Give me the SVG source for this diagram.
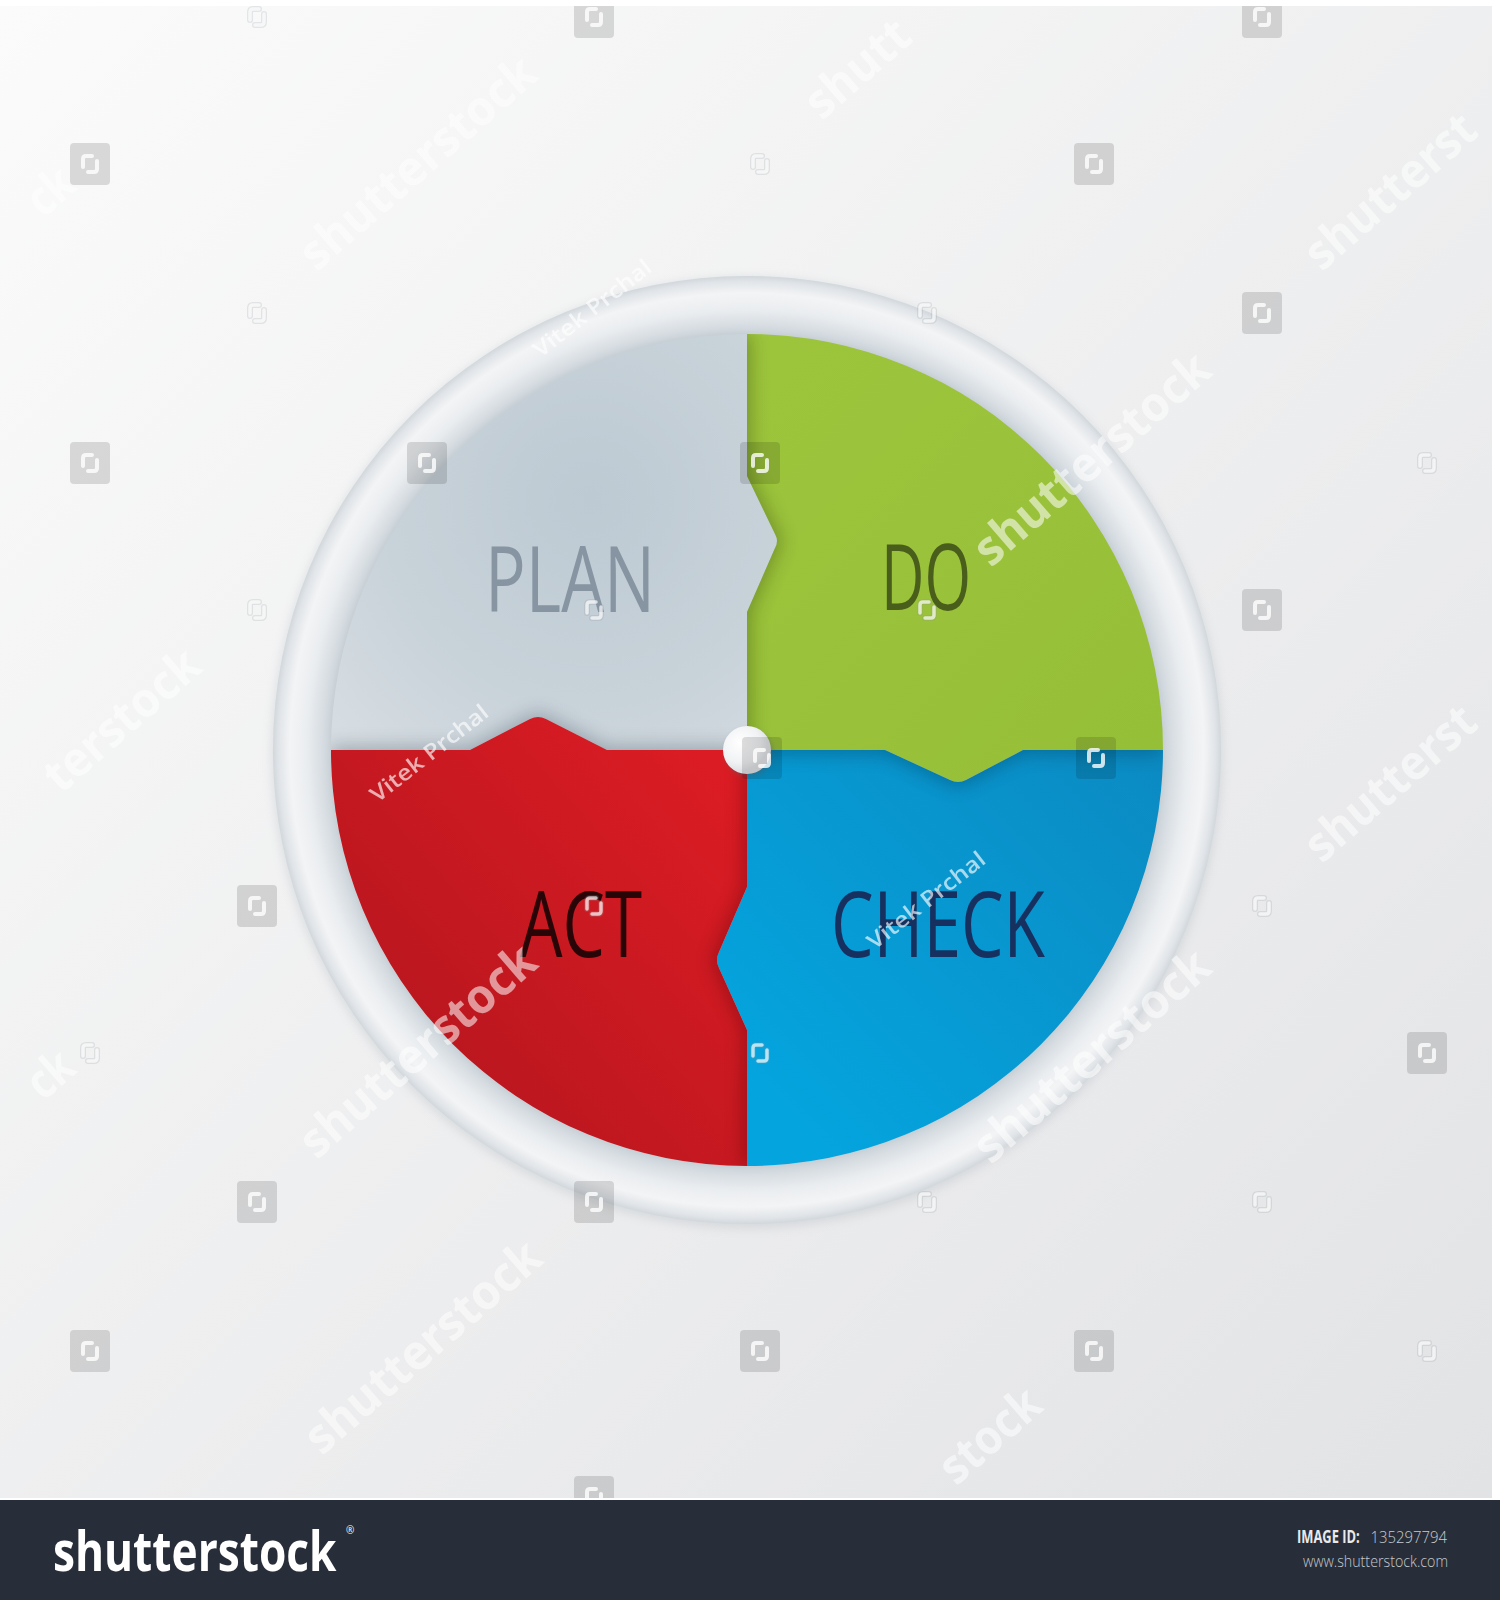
<svg xmlns="http://www.w3.org/2000/svg" xmlns:xlink="http://www.w3.org/1999/xlink" width="1500" height="1600" viewBox="0 0 1500 1600">
<style>
.lbl{font-family:"Open Sans","Liberation Sans",sans-serif;font-size:92px;font-weight:400}
.wm{font-family:"Open Sans","Liberation Sans",sans-serif;font-weight:700;font-size:48px;fill:#fff;opacity:.55}
.vp{font-family:"Open Sans","Liberation Sans",sans-serif;font-weight:600;font-size:22px;fill:#fff;opacity:.65}
.bar{font-family:"Open Sans","Liberation Sans",sans-serif}
</style>
<defs>
<linearGradient id="bg" x1="0" y1="0" x2="1492" y2="1498" gradientUnits="userSpaceOnUse">
<stop offset="0" stop-color="#fbfbfb"/><stop offset="1" stop-color="#e2e3e5"/>
</linearGradient>
<radialGradient id="ring" cx="747" cy="750" r="476" gradientUnits="userSpaceOnUse">
<stop offset="0.87" stop-color="#c3ccd3"/><stop offset="0.885" stop-color="#d2d9de"/><stop offset="0.925" stop-color="#eaedf0"/><stop offset="0.96" stop-color="#f3f4f5"/><stop offset="0.985" stop-color="#e0e4e8"/><stop offset="1" stop-color="#cbd2d7"/>
</radialGradient>
<radialGradient id="gPlan" cx="590" cy="500" r="340" gradientUnits="userSpaceOnUse">
<stop offset="0" stop-color="#bdcad3"/><stop offset="0.6" stop-color="#c8d2d9"/><stop offset="1" stop-color="#d6dde2"/>
</radialGradient>
<linearGradient id="gDo" x1="760" y1="350" x2="1160" y2="740" gradientUnits="userSpaceOnUse">
<stop offset="0" stop-color="#9dc53c"/><stop offset="1" stop-color="#96bf38"/>
</linearGradient>
<linearGradient id="gAct" x1="400" y1="1060" x2="730" y2="770" gradientUnits="userSpaceOnUse">
<stop offset="0" stop-color="#b8161e"/><stop offset="1" stop-color="#dc1c24"/>
</linearGradient>
<linearGradient id="gCheck" x1="780" y1="1130" x2="1150" y2="770" gradientUnits="userSpaceOnUse">
<stop offset="0" stop-color="#04a5df"/><stop offset="1" stop-color="#0b8bc3"/>
</linearGradient>
<radialGradient id="gDot" cx="740" cy="743" r="28" gradientUnits="userSpaceOnUse">
<stop offset="0" stop-color="#ffffff"/><stop offset="0.7" stop-color="#f1f2f4"/><stop offset="1" stop-color="#dfe2e5"/>
</radialGradient>
<filter id="blur" x="-20%" y="-20%" width="140%" height="140%"><feGaussianBlur stdDeviation="9"/></filter>
<filter id="soft" x="-10%" y="-10%" width="120%" height="120%"><feGaussianBlur stdDeviation="5"/></filter>
<filter id="dotsh" x="-50%" y="-50%" width="200%" height="200%"><feGaussianBlur stdDeviation="2.5"/></filter>
<clipPath id="img"><rect x="0" y="6" width="1492" height="1492"/></clipPath>
<clipPath id="cPlan"><path d="M331,750 A416,416 0 0 1 747,334 L747,476 L775,534 Q779,541 775,548 L747,612 L747,750 L607,750 L546,719 Q538,715 530,719 L470,750 Z"/></clipPath>
<clipPath id="cDo"><path d="M747,334 A416,416 0 0 1 1163,750 L1023,750 L966,780 Q958,784 950,780 L885,750 L747,750 L747,612 L775,548 Q779,541 775,534 L747,476 Z"/></clipPath>
<clipPath id="cCheck"><path d="M1163,750 A416,416 0 0 1 747,1166 L747,1030 L719,968 Q715,960 719,952 L747,887 L747,750 L885,750 L950,780 Q958,784 966,780 L1023,750 Z"/></clipPath>
<clipPath id="cAct"><path d="M747,1166 A416,416 0 0 1 331,750 L470,750 L530,719 Q538,715 546,719 L607,750 L747,750 L747,887 L719,952 Q715,960 719,968 L747,1030 Z"/></clipPath>
<g id="ico">
<rect x="-20" y="-21" width="40" height="42" rx="4" fill="#000" opacity=".13"/>
<path d="M-7,3 V-5 Q-7,-8 -4,-8 H2 M7,-3 V5 Q7,8 4,8 H-2" fill="none" stroke="#fff" stroke-width="4" stroke-linecap="round" opacity=".8"/>
</g>
<g id="gly">
<path d="M-7,3 V-5 Q-7,-8 -4,-8 H2 M7,-3 V5 Q7,8 4,8 H-2" fill="none" stroke="#8d959c" stroke-width="6" stroke-linecap="round" opacity=".2"/>
<path d="M-7,3 V-5 Q-7,-8 -4,-8 H2 M7,-3 V5 Q7,8 4,8 H-2" fill="none" stroke="#fff" stroke-width="3.5" stroke-linecap="round" opacity=".7"/>
</g>
</defs>

<rect x="0" y="0" width="1500" height="1600" fill="#ffffff"/>
<rect x="0" y="6" width="1492" height="1492" fill="url(#bg)"/>

<g id="ring-frame">
<circle cx="747" cy="753" r="476" fill="#8a96a0" opacity=".2" filter="url(#soft)"/>
<circle cx="747" cy="750" r="474" fill="url(#ring)"/>
</g>

<g id="node-plan">
<path d="M331,750 A416,416 0 0 1 747,334 L747,476 L775,534 Q779,541 775,548 L747,612 L747,750 L607,750 L546,719 Q538,715 530,719 L470,750 Z" fill="url(#gPlan)"/>
<g clip-path="url(#cPlan)"><path d="M747,1166 A416,416 0 0 1 331,750 L470,750 L530,719 Q538,715 546,719 L607,750 L747,750 L747,887 L719,952 Q715,960 719,968 L747,1030 Z" fill="#3a4a58" opacity=".35" filter="url(#blur)" transform="translate(0,-4)"/></g>
<text class="lbl" x="485" y="612" textLength="170" lengthAdjust="spacingAndGlyphs" fill="#8795a3">PLAN</text>
</g>

<g id="node-do">
<path d="M747,334 A416,416 0 0 1 1163,750 L1023,750 L966,780 Q958,784 950,780 L885,750 L747,750 L747,612 L775,548 Q779,541 775,534 L747,476 Z" fill="url(#gDo)"/>
<g clip-path="url(#cDo)"><path d="M331,750 A416,416 0 0 1 747,334 L747,476 L775,534 Q779,541 775,548 L747,612 L747,750 L607,750 L546,719 Q538,715 530,719 L470,750 Z" fill="#2c3a10" opacity=".35" filter="url(#blur)" transform="translate(4,0)"/></g>
<text class="lbl" x="881" y="610" textLength="90" lengthAdjust="spacingAndGlyphs" fill="#4a5e1c">DO</text>
</g>

<g id="node-check">
<path d="M1163,750 A416,416 0 0 1 747,1166 L747,1030 L719,968 Q715,960 719,952 L747,887 L747,750 L885,750 L950,780 Q958,784 966,780 L1023,750 Z" fill="url(#gCheck)"/>
<g clip-path="url(#cCheck)"><path d="M747,334 A416,416 0 0 1 1163,750 L1023,750 L966,780 Q958,784 950,780 L885,750 L747,750 L747,612 L775,548 Q779,541 775,534 L747,476 Z" fill="#04324a" opacity=".35" filter="url(#blur)" transform="translate(0,4)"/></g>
<text class="lbl" x="831" y="957" textLength="214" lengthAdjust="spacingAndGlyphs" fill="#163160">CHECK</text>
</g>

<g id="node-act">
<path d="M747,1166 A416,416 0 0 1 331,750 L470,750 L530,719 Q538,715 546,719 L607,750 L747,750 L747,887 L719,952 Q715,960 719,968 L747,1030 Z" fill="url(#gAct)"/>
<g clip-path="url(#cAct)"><path d="M1163,750 A416,416 0 0 1 747,1166 L747,1030 L719,968 Q715,960 719,952 L747,887 L747,750 L885,750 L950,780 Q958,784 966,780 L1023,750 Z" fill="#4a0508" opacity=".35" filter="url(#blur)" transform="translate(-4,0)"/></g>
<text class="lbl" x="520" y="957" textLength="122" lengthAdjust="spacingAndGlyphs" fill="#2a0508">ACT</text>
</g>

<g id="hub">
<circle cx="749" cy="753" r="24" fill="#5a6670" opacity=".35" filter="url(#dotsh)"/>
<circle cx="747" cy="750" r="24" fill="url(#gDot)"/>
</g>

<g id="connectors"/>

<g id="watermarks" clip-path="url(#img)">
<use href="#ico" x="90" y="164"/><use href="#ico" x="90" y="463"/><use href="#ico" x="90" y="1351"/>
<use href="#ico" x="257" y="906"/><use href="#ico" x="257" y="1202"/>
<use href="#ico" x="427" y="463"/>
<use href="#ico" x="594" y="17"/><use href="#ico" x="594" y="1202"/><use href="#ico" x="594" y="1497"/>
<use href="#ico" x="760" y="463"/><use href="#ico" x="760" y="1351"/><use href="#ico" x="762" y="758"/>
<use href="#ico" x="1094" y="164"/><use href="#ico" x="1094" y="1351"/><use href="#ico" x="1096" y="758"/>
<use href="#ico" x="1262" y="17"/><use href="#ico" x="1262" y="313"/><use href="#ico" x="1262" y="610"/>
<use href="#ico" x="1427" y="1053"/>
<use href="#gly" x="257" y="17"/><use href="#gly" x="257" y="313"/><use href="#gly" x="257" y="610"/>
<use href="#gly" x="760" y="164"/><use href="#gly" x="927" y="313"/><use href="#gly" x="927" y="610"/>
<use href="#gly" x="927" y="1202"/><use href="#gly" x="1262" y="906"/><use href="#gly" x="1262" y="1202"/>
<use href="#gly" x="1427" y="463"/><use href="#gly" x="1427" y="1351"/><use href="#gly" x="90" y="1053"/>
<use href="#gly" x="760" y="1053"/><use href="#gly" x="594" y="906"/><use href="#gly" x="594" y="610"/>
<text class="wm" text-anchor="middle" textLength="296" lengthAdjust="spacingAndGlyphs" transform="translate(418,163) rotate(-41)" y="16">shutterstock</text>
<text class="wm" textLength="123" lengthAdjust="spacingAndGlyphs" transform="translate(923,12) rotate(-41)" x="-148" y="16">shutt</text>
<text class="wm" textLength="210" lengthAdjust="spacingAndGlyphs" transform="translate(1423,163) rotate(-41)" x="-148" y="16">shutterst</text>
<text class="wm" text-anchor="middle" textLength="296" lengthAdjust="spacingAndGlyphs" transform="translate(1092,459) rotate(-41)" y="16">shutterstock</text>
<text class="wm" text-anchor="end" textLength="190" lengthAdjust="spacingAndGlyphs" transform="translate(82,755) rotate(-41)" x="148" y="16">terstock</text>
<text class="wm" textLength="210" lengthAdjust="spacingAndGlyphs" transform="translate(1423,755) rotate(-41)" x="-148" y="16">shutterst</text>
<text class="wm" text-anchor="middle" textLength="296" lengthAdjust="spacingAndGlyphs" transform="translate(418,1051) rotate(-41)" y="16">shutterstock</text>
<text class="wm" text-anchor="middle" textLength="296" lengthAdjust="spacingAndGlyphs" transform="translate(1092,1056) rotate(-41)" y="16">shutterstock</text>
<text class="wm" text-anchor="middle" textLength="296" lengthAdjust="spacingAndGlyphs" transform="translate(423,1347) rotate(-41)" y="16">shutterstock</text>
<text class="wm" text-anchor="end" textLength="118" lengthAdjust="spacingAndGlyphs" transform="translate(923,1494) rotate(-41)" x="148" y="16">stock</text>
<text class="wm" text-anchor="end" textLength="46" lengthAdjust="spacingAndGlyphs" transform="translate(-87,311) rotate(-41)" x="205" y="16">ck</text>
<text class="wm" text-anchor="end" textLength="46" lengthAdjust="spacingAndGlyphs" transform="translate(-87,1194) rotate(-41)" x="205" y="16">ck</text>
<text class="vp" text-anchor="middle" textLength="143" lengthAdjust="spacingAndGlyphs" transform="translate(592,308) rotate(-38)" y="8">Vitek Prchal</text>
<text class="vp" text-anchor="middle" textLength="143" lengthAdjust="spacingAndGlyphs" transform="translate(429,753) rotate(-38)" y="8">Vitek Prchal</text>
<text class="vp" text-anchor="middle" textLength="143" lengthAdjust="spacingAndGlyphs" transform="translate(926,900) rotate(-38)" y="8">Vitek Prchal</text>
</g>

<g id="footer">
<rect x="0" y="1500" width="1500" height="100" fill="#282e39"/>
<text class="bar" transform="translate(53,1571) scale(0.79,1)" font-size="56" font-weight="700" fill="#ffffff">shutterstock</text>
<text class="bar" x="346" y="1534" font-size="10" fill="#ffffff">®</text>
<text class="bar" transform="translate(1297,1543) scale(0.76,1)" font-size="17" font-weight="700" fill="#e8eaed">IMAGE ID:</text>
<text class="bar" transform="translate(1447,1543) scale(0.93,1)" text-anchor="end" font-size="16" font-weight="300" fill="#c9ccd1">135297794</text>
<text class="bar" transform="translate(1448,1567) scale(0.92,1)" text-anchor="end" font-size="15.5" font-weight="300" fill="#c4c8cd">www.shutterstock.com</text>
</g>
</svg>
